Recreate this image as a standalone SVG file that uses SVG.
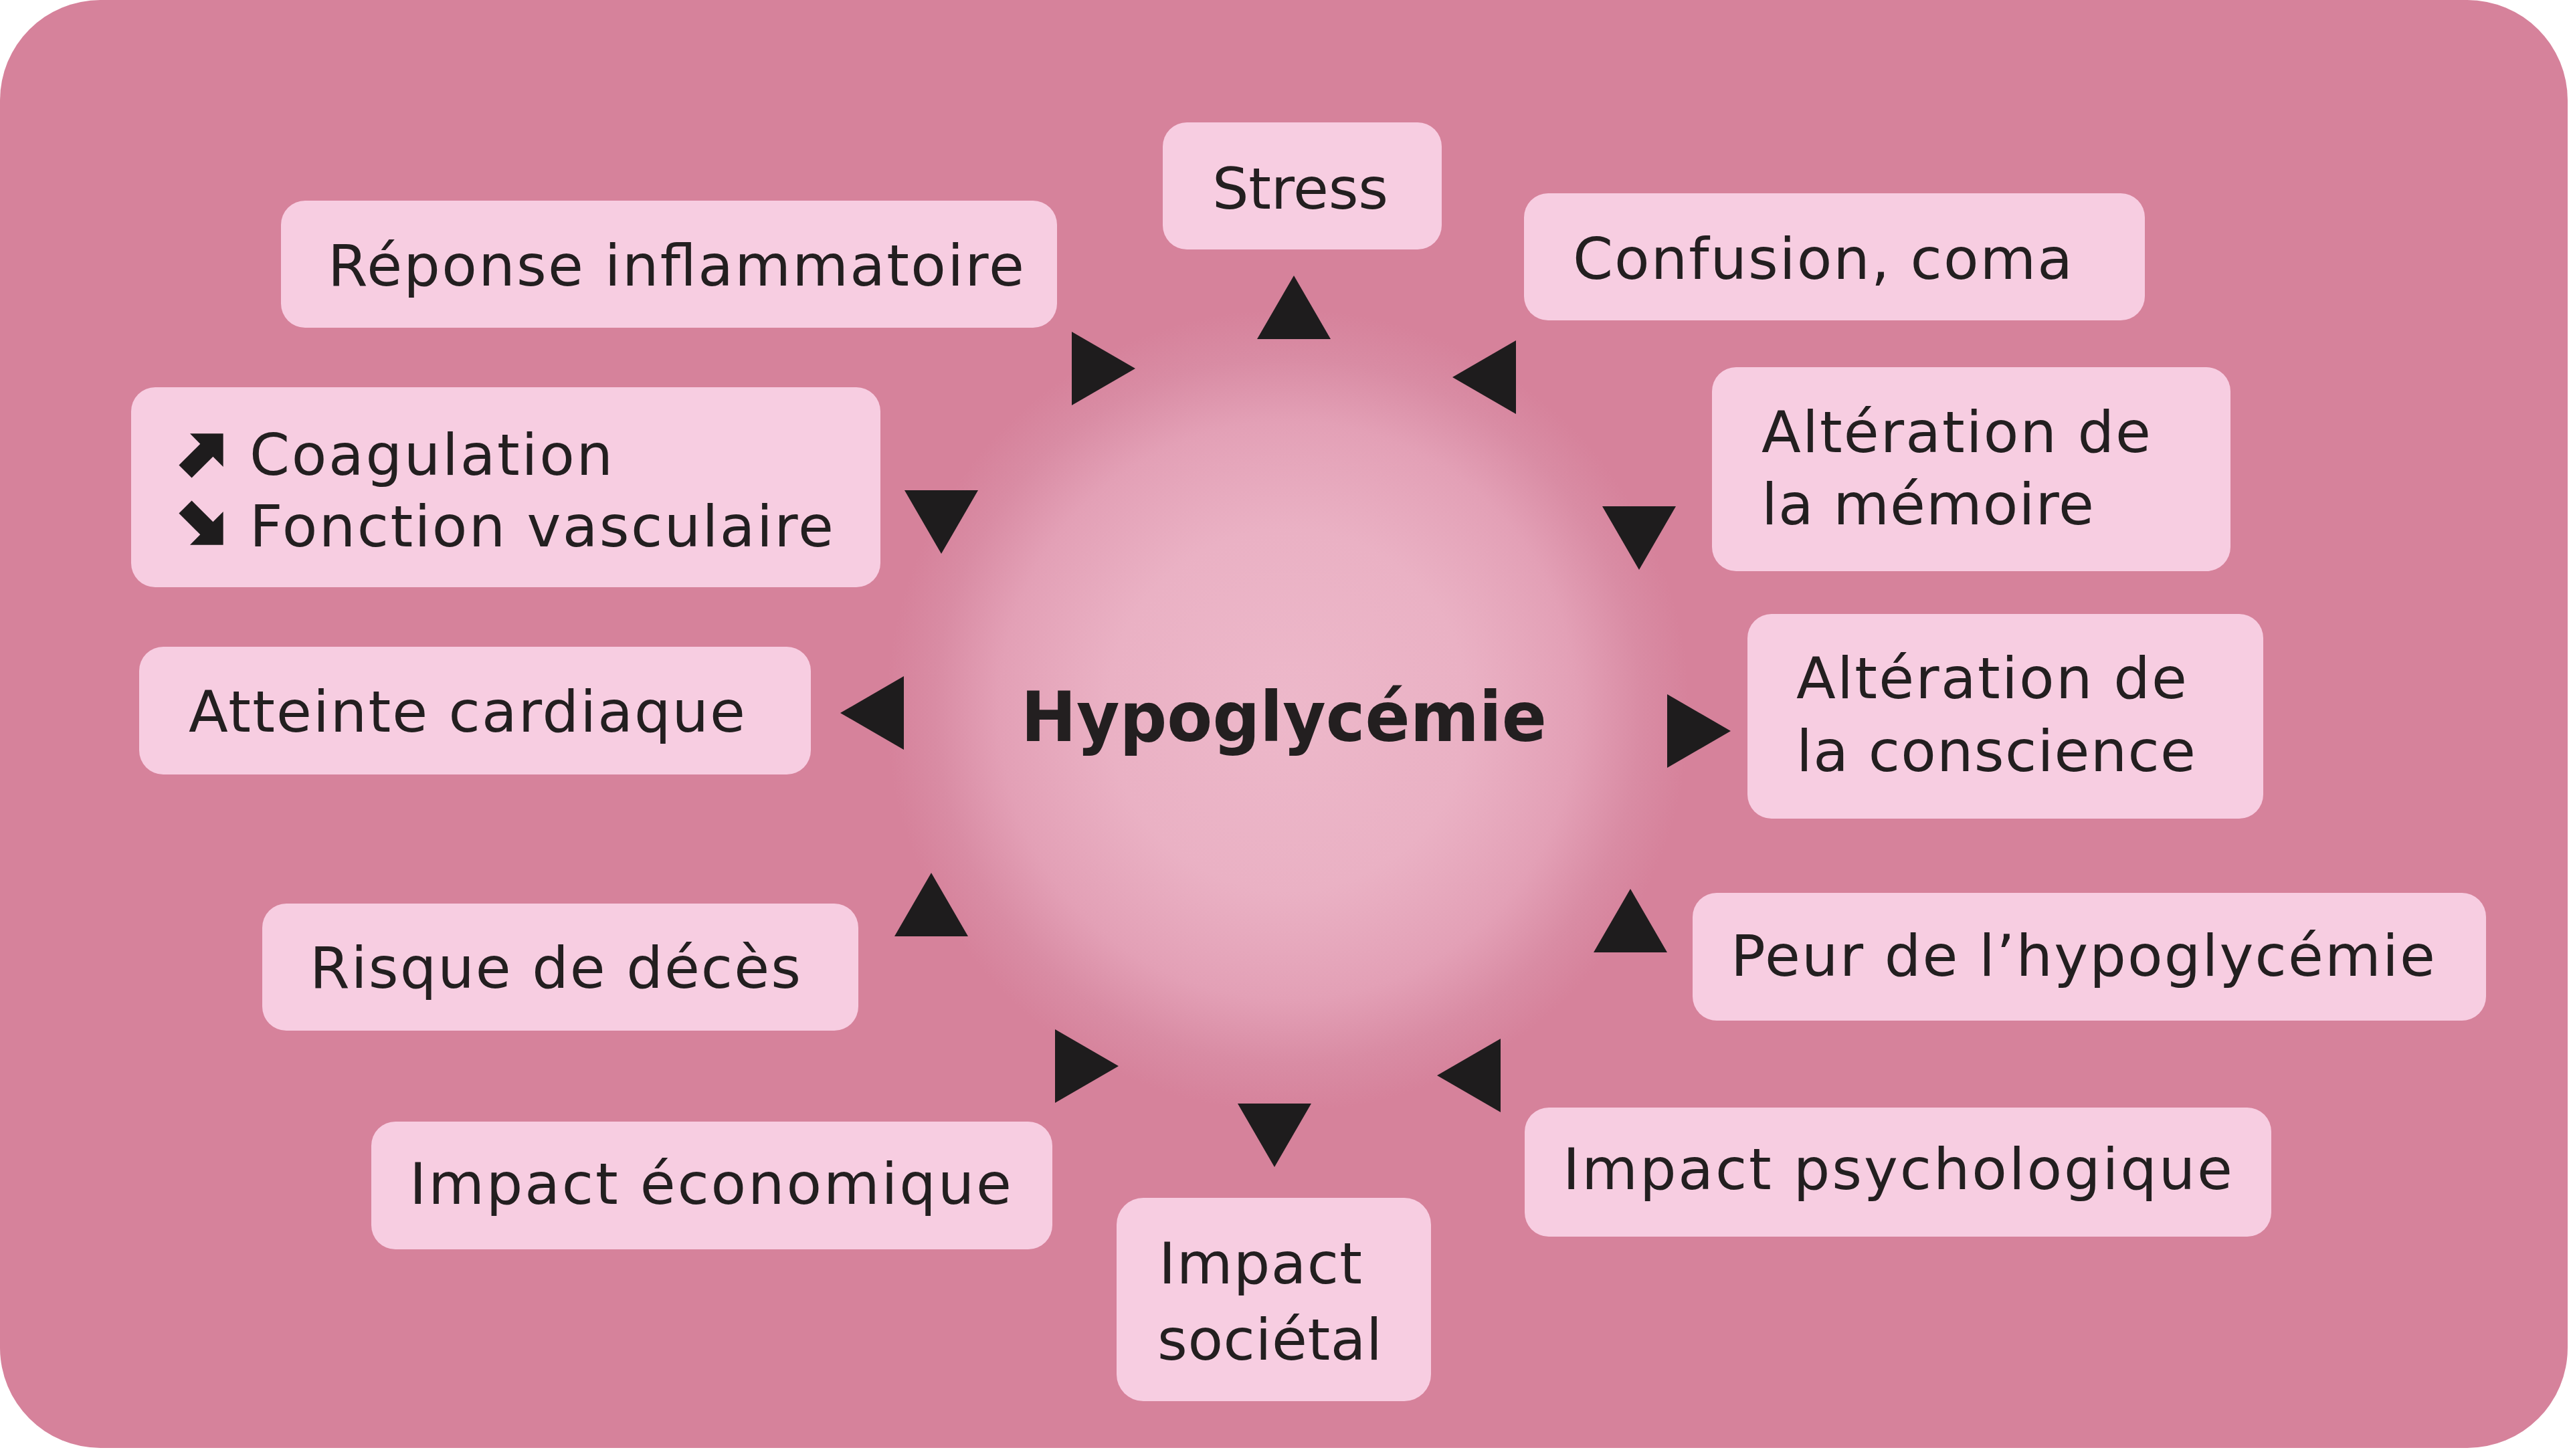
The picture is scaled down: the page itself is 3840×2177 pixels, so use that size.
<svg xmlns="http://www.w3.org/2000/svg" xmlns:xlink="http://www.w3.org/1999/xlink" width="3840" height="2177" viewBox="0 0 3840 2177">
  <style>
    .box { fill: #F7CDE1; }
    .lbl { font-family: "DejaVu Sans", "Liberation Sans", sans-serif; font-size: 86px; fill: #231F20; }
    .title { font-family: "DejaVu Sans", "Liberation Sans", sans-serif; font-size: 104px; font-weight: bold; fill: #231F20; }
    .tri { fill: #1E1C1D; }
    .icon { fill: #1E1C1D; }
  </style>
  <defs>
    <radialGradient id="glow" cx="1925" cy="1062" r="600" gradientUnits="userSpaceOnUse">
      <stop offset="0" stop-color="#EDB8CA"/>
      <stop offset="0.45" stop-color="#EAB1C4"/>
      <stop offset="0.72" stop-color="#E3A0B6"/>
      <stop offset="0.88" stop-color="#D98CA4"/>
      <stop offset="1" stop-color="#D6829B"/>
    </radialGradient>
    <path id="tri" d="M0,-55 L95,0 L0,55 Z"/>
    <path id="harrow" d="M-44,-15 L6,-15 L6,-39 L45,0 L6,39 L6,15 L-44,15 Z"/>
  </defs>

  <rect x="0" y="0" width="3840" height="2177" fill="#FFFFFF"/>
  <rect id="background" x="0" y="0" width="3838" height="2165" rx="150" ry="150" fill="#D6829B"/>

  <g id="center">
    <circle cx="1925" cy="1062" r="600" fill="url(#glow)"/>
    <text class="title" x="1526" y="1108" textLength="786" lengthAdjust="spacingAndGlyphs">Hypoglycémie</text>
  </g>

  <g id="connectors">
    <use xlink:href="#tri" class="tri" transform="translate(1602,551)"/>
    <use xlink:href="#tri" class="tri" transform="translate(1934,507) rotate(-90)"/>
    <use xlink:href="#tri" class="tri" transform="translate(2266,564) rotate(180)"/>
    <use xlink:href="#tri" class="tri" transform="translate(2450,757) rotate(90)"/>
    <use xlink:href="#tri" class="tri" transform="translate(2492,1093)"/>
    <use xlink:href="#tri" class="tri" transform="translate(2437,1424) rotate(-90)"/>
    <use xlink:href="#tri" class="tri" transform="translate(2243,1608) rotate(180)"/>
    <use xlink:href="#tri" class="tri" transform="translate(1905,1650) rotate(90)"/>
    <use xlink:href="#tri" class="tri" transform="translate(1577,1594)"/>
    <use xlink:href="#tri" class="tri" transform="translate(1392,1400) rotate(-90)"/>
    <use xlink:href="#tri" class="tri" transform="translate(1351,1066) rotate(180)"/>
    <use xlink:href="#tri" class="tri" transform="translate(1407,733) rotate(90)"/>
  </g>

  <g id="node-stress">
    <rect class="box" x="1738" y="183" width="417" height="190" rx="36"/>
    <text class="lbl" x="1812" y="312" textLength="263" lengthAdjust="spacing">Stress</text>
  </g>
  <g id="node-reponse">
    <rect class="box" x="420" y="300" width="1160" height="190" rx="36"/>
    <text class="lbl" x="490" y="427" textLength="1041" lengthAdjust="spacing">Réponse inflammatoire</text>
  </g>
  <g id="node-confusion">
    <rect class="box" x="2278" y="289" width="928" height="190" rx="36"/>
    <text class="lbl" x="2351" y="417" textLength="747" lengthAdjust="spacing">Confusion, coma</text>
  </g>
  <g id="node-memoire">
    <rect class="box" x="2559" y="549" width="775" height="305" rx="36"/>
    <text class="lbl" x="2633" y="676" textLength="582" lengthAdjust="spacing">Altération de</text>
    <text class="lbl" x="2633" y="784" textLength="497" lengthAdjust="spacing">la mémoire</text>
  </g>
  <g id="node-coagulation">
    <rect class="box" x="196" y="579" width="1120" height="299" rx="36"/>
    <use xlink:href="#harrow" class="icon" transform="translate(305,677) rotate(-45) scale(0.9)"/>
    <use xlink:href="#harrow" class="icon" transform="translate(305,786) rotate(45) scale(0.9)"/>
    <text class="lbl" x="373" y="710" textLength="543" lengthAdjust="spacing">Coagulation</text>
    <text class="lbl" x="373" y="817" textLength="873" lengthAdjust="spacing">Fonction vasculaire</text>
  </g>
  <g id="node-cardiaque">
    <rect class="box" x="208" y="967" width="1004" height="191" rx="36"/>
    <text class="lbl" x="282" y="1094" textLength="832" lengthAdjust="spacing">Atteinte cardiaque</text>
  </g>
  <g id="node-conscience">
    <rect class="box" x="2612" y="918" width="771" height="306" rx="36"/>
    <text class="lbl" x="2685" y="1044" textLength="584" lengthAdjust="spacing">Altération de</text>
    <text class="lbl" x="2685" y="1153" textLength="597" lengthAdjust="spacing">la conscience</text>
  </g>
  <g id="node-risque">
    <rect class="box" x="392" y="1351" width="891" height="190" rx="36"/>
    <text class="lbl" x="463" y="1477" textLength="734" lengthAdjust="spacing">Risque de décès</text>
  </g>
  <g id="node-peur">
    <rect class="box" x="2530" y="1335" width="1186" height="191" rx="36"/>
    <text class="lbl" x="2587" y="1459" textLength="1053" lengthAdjust="spacing">Peur de l’hypoglycémie</text>
  </g>
  <g id="node-psychologique">
    <rect class="box" x="2279" y="1656" width="1116" height="193" rx="36"/>
    <text class="lbl" x="2336" y="1778" textLength="1001" lengthAdjust="spacing">Impact psychologique</text>
  </g>
  <g id="node-economique">
    <rect class="box" x="555" y="1677" width="1018" height="191" rx="36"/>
    <text class="lbl" x="612" y="1800" textLength="900" lengthAdjust="spacing">Impact économique</text>
  </g>
  <g id="node-societal">
    <rect class="box" x="1669" y="1791" width="470" height="304" rx="40"/>
    <text class="lbl" x="1732" y="1919" textLength="304" lengthAdjust="spacing">Impact</text>
    <text class="lbl" x="1730" y="2033" textLength="336" lengthAdjust="spacing">sociétal</text>
  </g>
</svg>
